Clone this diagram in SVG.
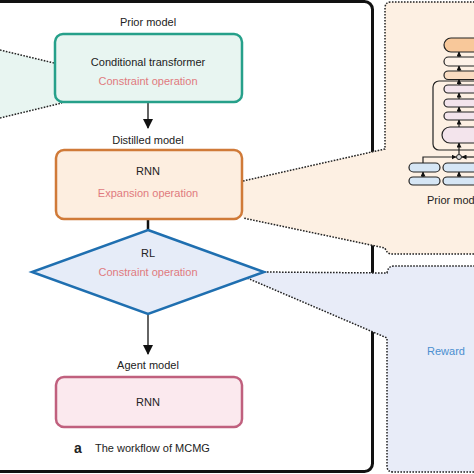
<svg xmlns="http://www.w3.org/2000/svg" width="474" height="474" viewBox="0 0 474 474">
<style>
text{font-family:"Liberation Sans",Arial,sans-serif;font-size:11px;fill:#222}
.op{fill:#e07a7e}
.dot{fill:none;stroke:#222;stroke-width:1.5;stroke-dasharray:1.6 1.4}
.pill{stroke:#222;stroke-width:1.2}
.nn{fill:none;stroke:#222;stroke-width:1.2}
</style>
<defs>
<marker id="ah" viewBox="0 0 10 10" refX="9" refY="5" markerWidth="10" markerHeight="10" markerUnits="userSpaceOnUse" orient="auto">
<path d="M0,0 L10,5 L0,10 z" fill="#111"/>
</marker>
<marker id="sh" viewBox="0 0 10 10" refX="9" refY="5" markerWidth="5" markerHeight="5" markerUnits="userSpaceOnUse" orient="auto">
<path d="M0,0 L10,5 L0,10 z" fill="#111"/>
</marker>
</defs>
<rect width="474" height="474" fill="#fff"/>
<!-- main frame -->
<rect id="frame" x="-20" y="1.5" width="392.5" height="470" rx="8" fill="none" stroke="#111" stroke-width="3"/>
<!-- teal wedge -->
<g id="teal-wedge">
<polygon points="0,50 54,63 62,103 0,118" fill="#e8f5f1"/>
<path class="dot" d="M0,50 L54,63 M0,118 L62,103"/>
</g>
<!-- orange panel -->
<g id="prior-panel">
<path d="M243,181 L385,149 L385,8 Q385,2 391,2 L474,2 L474,254 L392,254 Q387,254 385,248 L243,218 Z" fill="#fdf0e3"/>
<path class="dot" d="M243,181 L385,149 L385,8 Q385,2 391,2 L474,2 M474,254 L392,254 Q387,254 385,248 L243,218"/>
<g id="nn">
<rect class="pill" x="444" y="38" width="44" height="14" rx="7" fill="#f8c89a"/>
<rect class="pill" x="444" y="57" width="44" height="9" rx="4.5" fill="#fdf2e8"/>
<rect class="pill" x="444" y="71" width="44" height="8.5" rx="4.2" fill="#f9dcc2"/>
<rect class="nn" x="433" y="81" width="60" height="69" rx="6"/>
<rect class="pill" x="444" y="85" width="44" height="8" rx="4" fill="#f3e4ec"/>
<rect class="pill" x="444" y="99" width="44" height="8" rx="4" fill="#f3e4ec"/>
<rect class="pill" x="444" y="112" width="44" height="8" rx="4" fill="#f3e4ec"/>
<rect class="pill" x="442" y="127" width="46" height="16" rx="8" fill="#f3e4ec"/>
<path class="nn" marker-end="url(#sh)" d="M459,57 L459,52"/>
<path class="nn" marker-end="url(#sh)" d="M459,71 L459,66"/>
<path class="nn" marker-end="url(#sh)" d="M459,85 L459,79.5"/>
<path class="nn" marker-end="url(#sh)" d="M459,99 L459,93"/>
<path class="nn" marker-end="url(#sh)" d="M459,112 L459,107"/>
<path class="nn" marker-end="url(#sh)" d="M459,127 L459,120"/>
<path class="nn" marker-end="url(#sh)" d="M459,154.5 L459,143"/>
<circle cx="459" cy="157" r="2.5" fill="#ddd" stroke="#222" stroke-width="1"/>
<path class="nn" d="M423,163 L423,157 L456,157" marker-end="url(#sh)"/>
<path class="nn" d="M476,157 L462,157" marker-end="url(#sh)"/>
<rect class="pill" x="409" y="163" width="31" height="9" rx="4.5" fill="#d6e6f5"/>
<rect class="pill" x="443" y="163" width="44" height="9" rx="4.5" fill="#d6e6f5"/>
<rect class="pill" x="409" y="177" width="31" height="8" rx="4" fill="#d6e6f5"/>
<rect class="pill" x="443" y="177" width="44" height="8" rx="4" fill="#d6e6f5"/>
<path class="nn" marker-end="url(#sh)" d="M423,177 L423,172"/>
<path class="nn" marker-end="url(#sh)" d="M459,177 L459,172"/>
<text x="427" y="204">Prior model</text>
</g>
</g>
<!-- blue panel -->
<g id="reward-panel">
<path d="M264,272 L387,273 Q388,266 394,266 L474,266 L474,472 L393,472 Q387,472 387,466 L387,338 L247,278 Z" fill="#e8ecf8"/>
<path class="dot" d="M264,272 L387,273 Q388,266 394,266 L474,266 M474,472 L393,472 Q387,472 387,466 L387,338 L247,278"/>
<text x="446" y="355" text-anchor="middle" style="fill:#4a8fd0">Reward</text>
</g>
<!-- connectors -->
<g id="connectors">
<path d="M148,102 L148,128" stroke="#111" stroke-width="1.3" marker-end="url(#ah)"/>
<path d="M148,219 L148,231" stroke="#111" stroke-width="2.5"/>
<path d="M148,314 L148,354" stroke="#111" stroke-width="1.3" marker-end="url(#ah)"/>
</g>
<!-- nodes -->
<g id="prior-model">
<text x="148" y="26" text-anchor="middle">Prior model</text>
<rect x="55" y="34" width="187" height="68" rx="8" fill="#e8f5f1" stroke="#26a08a" stroke-width="2.5"/>
<text x="148" y="66" text-anchor="middle">Conditional transformer</text>
<text class="op" x="148" y="85" text-anchor="middle">Constraint operation</text>
</g>
<g id="distilled-model">
<text x="148" y="144" text-anchor="middle">Distilled model</text>
<rect x="56" y="150" width="186" height="69" rx="8" fill="#fdeee0" stroke="#d07a38" stroke-width="2.5"/>
<text x="148" y="175" text-anchor="middle">RNN</text>
<text class="op" x="148" y="197" text-anchor="middle">Expansion operation</text>
</g>
<g id="rl">
<polygon points="148,230 264,272 148,314 32,272" fill="#e6ecf8" stroke="#1f6fb0" stroke-width="2.5" stroke-linejoin="miter"/>
<text x="148" y="257" text-anchor="middle">RL</text>
<text class="op" x="148" y="276" text-anchor="middle">Constraint operation</text>
</g>
<g id="agent-model">
<text x="148" y="369" text-anchor="middle">Agent model</text>
<rect x="56" y="377" width="186" height="50" rx="8" fill="#fbe9ee" stroke="#c0607e" stroke-width="2.5"/>
<text x="148" y="406" text-anchor="middle">RNN</text>
</g>
<g id="caption">
<text x="74" y="453" style="font-size:14px;font-weight:bold">a</text>
<text x="95" y="452">The workflow of MCMG</text>
</g>
</svg>
